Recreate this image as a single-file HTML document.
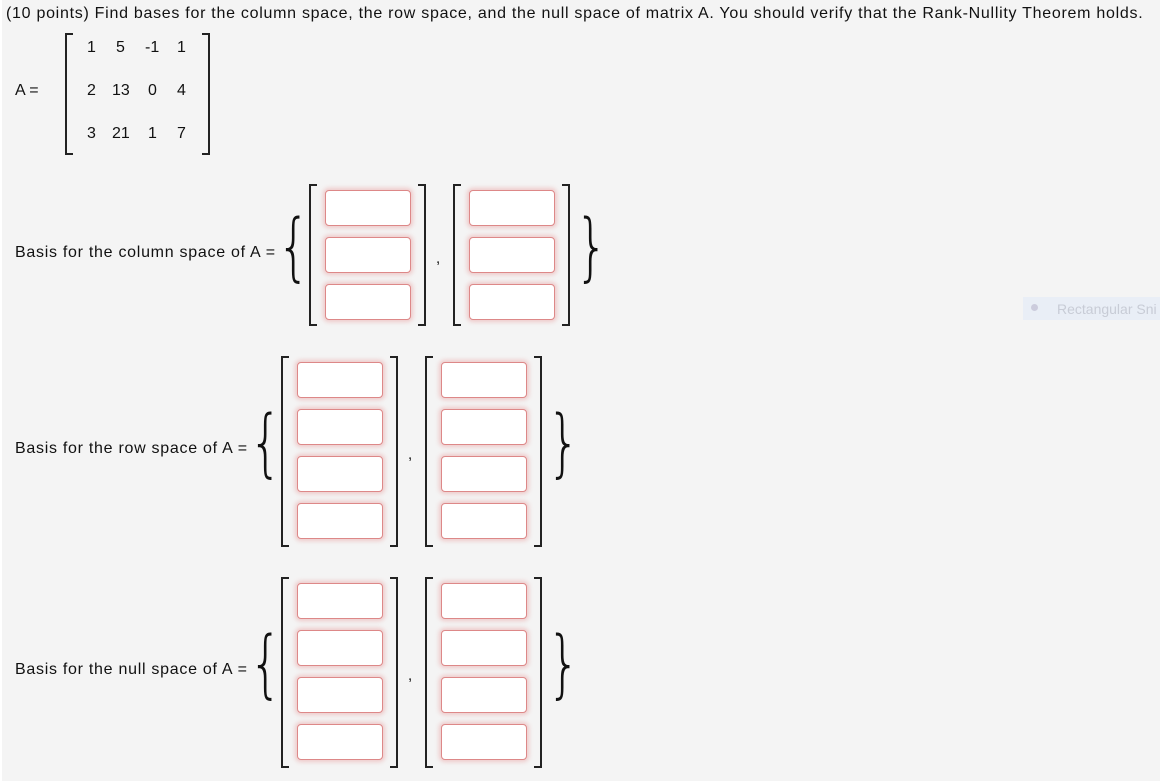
<!DOCTYPE html>
<html><head><style>
body{margin:0;width:1160px;height:781px;background:#f4f4f4;font-family:"Liberation Sans",Arial,sans-serif;color:#111;position:relative;overflow:hidden}
.t{position:absolute;font-size:16px;letter-spacing:0.72px;white-space:nowrap}
.m{position:absolute;font-size:16px;white-space:nowrap}
.b{position:absolute;width:84px;height:34px;background:#fff;border:1px solid #d88;border-radius:4px;box-shadow:0 0 4px 2px rgba(230,120,120,.35)}
.lb{position:absolute;border:2px solid #222;border-right:none;width:6px}
.rb{position:absolute;border:2px solid #222;border-left:none;width:6px}
.br{position:absolute;font-size:74px;font-weight:100;transform:scaleX(.7);line-height:1;font-family:"DejaVu Sans",sans-serif}
.c{position:absolute;font-size:15px}
</style></head><body>
<div style="position:absolute;left:0;top:0;width:2px;height:781px;background:#fff"></div>
<div class="t" style="left:6px;top:5px">(10 points) Find bases for the column space, the row space, and the null space of matrix A. You should verify that the Rank-Nullity Theorem holds.</div>
<div class="m" style="left:15px;top:82px">A =</div>
<div class="lb" style="left:65px;top:33px;height:118px"></div>
<div class="rb" style="left:202px;top:33px;height:118px"></div>
<div class="m" style="left:87px;top:39px">1</div><div class="m" style="left:116px;top:39px">5</div><div class="m" style="left:145px;top:39px">-1</div><div class="m" style="left:177px;top:39px">1</div>
<div class="m" style="left:87px;top:82px">2</div><div class="m" style="left:112px;top:82px">13</div><div class="m" style="left:148px;top:82px">0</div><div class="m" style="left:177px;top:82px">4</div>
<div class="m" style="left:87px;top:125px">3</div><div class="m" style="left:112px;top:125px">21</div><div class="m" style="left:148px;top:125px">1</div><div class="m" style="left:177px;top:125px">7</div>

<!-- column space -->
<div class="t" style="left:15px;top:244px">Basis for the column space of A =</div>
<div class="br" style="left:270px;top:210px">{</div>
<div class="lb" style="left:309px;top:184px;height:138px"></div>
<div class="rb" style="left:418px;top:184px;height:138px"></div>
<div class="b" style="left:325px;top:190px"></div><div class="b" style="left:325px;top:237px"></div><div class="b" style="left:325px;top:284px"></div>
<div class="c" style="left:436px;top:250px">,</div>
<div class="lb" style="left:453px;top:184px;height:138px"></div>
<div class="rb" style="left:562px;top:184px;height:138px"></div>
<div class="b" style="left:469px;top:190px"></div><div class="b" style="left:469px;top:237px"></div><div class="b" style="left:469px;top:284px"></div>
<div class="br" style="left:568px;top:210px">}</div>

<div style="position:absolute;left:1023px;top:297px;width:137px;height:23px;background:#e9eef6"></div>
<div style="position:absolute;left:1031px;top:304px;width:7px;height:7px;border-radius:50%;background:#ccd"></div>
<div class="m" style="left:1057px;top:301px;font-size:14px;color:#c8ccd6">Rectangular Sni</div>

<!-- row space -->
<div class="t" style="left:15px;top:440px">Basis for the row space of A =</div>
<div class="br" style="left:242px;top:406px">{</div>
<div class="lb" style="left:281px;top:356px;height:187px"></div>
<div class="rb" style="left:390px;top:356px;height:187px"></div>
<div class="b" style="left:297px;top:362px"></div><div class="b" style="left:297px;top:409px"></div><div class="b" style="left:297px;top:456px"></div><div class="b" style="left:297px;top:503px"></div>
<div class="c" style="left:408px;top:446px">,</div>
<div class="lb" style="left:425px;top:356px;height:187px"></div>
<div class="rb" style="left:534px;top:356px;height:187px"></div>
<div class="b" style="left:441px;top:362px"></div><div class="b" style="left:441px;top:409px"></div><div class="b" style="left:441px;top:456px"></div><div class="b" style="left:441px;top:503px"></div>
<div class="br" style="left:540px;top:406px">}</div>

<!-- null space -->
<div class="t" style="left:15px;top:661px">Basis for the null space of A =</div>
<div class="br" style="left:242px;top:627px">{</div>
<div class="lb" style="left:281px;top:577px;height:187px"></div>
<div class="rb" style="left:390px;top:577px;height:187px"></div>
<div class="b" style="left:297px;top:583px"></div><div class="b" style="left:297px;top:630px"></div><div class="b" style="left:297px;top:677px"></div><div class="b" style="left:297px;top:724px"></div>
<div class="c" style="left:408px;top:667px">,</div>
<div class="lb" style="left:425px;top:577px;height:187px"></div>
<div class="rb" style="left:534px;top:577px;height:187px"></div>
<div class="b" style="left:441px;top:583px"></div><div class="b" style="left:441px;top:630px"></div><div class="b" style="left:441px;top:677px"></div><div class="b" style="left:441px;top:724px"></div>
<div class="br" style="left:540px;top:627px">}</div>
</body></html>
